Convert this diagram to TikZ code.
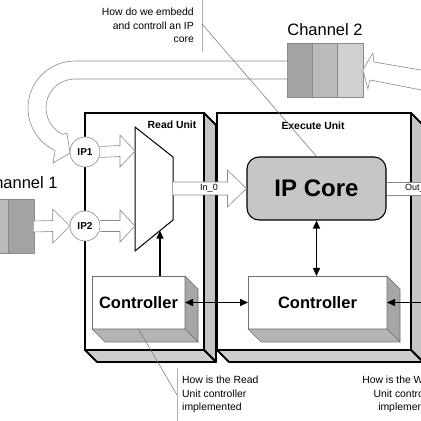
\documentclass[tikz,border=0pt]{standalone}
\usepackage{fontspec}
\setmainfont{Liberation Sans}
\usetikzlibrary{arrows.meta,calc,positioning}
\definecolor{unitgray}{HTML}{C4C4C4}
\definecolor{ctrlright}{HTML}{A6A6A6}
\definecolor{ctrlbottom}{HTML}{B4B4B4}
\definecolor{coregray}{HTML}{C6C6C8}
\definecolor{chdark}{HTML}{A3A3A5}
\definecolor{chmid}{HTML}{BABABC}
\definecolor{chlight}{HTML}{D0D0D2}
\definecolor{arrowgray}{HTML}{8A8A8A}
\definecolor{linegray}{HTML}{707070}
\definecolor{brackgray}{HTML}{B0B0B0}
\newcommand{\extrude}[5]{%
  \filldraw[#5, fill=#3] (#1.north east) -- ($(#1.north east)+(#2,-#2)$) -- ($(#1.south east)+(#2,-#2)$) -- (#1.south east) -- cycle;
  \filldraw[#5, fill=#4] (#1.south west) -- ($(#1.south west)+(#2,-#2)$) -- ($(#1.south east)+(#2,-#2)$) -- (#1.south east) -- cycle;
}
\newcommand{\blkarrow}[5]{%
  \path[fill=white] ($(#1)+(0,#3)$) -- ($(#2)+(-#5,#3)$) -- ($(#2)+(-#5,#4)$) -- (#2) -- ($(#2)+(-#5,-#4)$) -- ($(#2)+(-#5,-#3)$) -- ($(#1)+(0,-#3)$) -- cycle;
  \draw[arrowline] ($(#1)+(0,#3)$) -- ($(#2)+(-#5,#3)$) -- ($(#2)+(-#5,#4)$) -- (#2) -- ($(#2)+(-#5,-#4)$) -- ($(#2)+(-#5,-#3)$) -- ($(#1)+(0,-#3)$);
}
\tikzset{
  unitfront/.style={draw=black, line width=1.8pt, fill=white, inner sep=0pt, outer sep=0pt, anchor=north west},
  unitface/.style={draw=black, line width=1.8pt, line join=round},
  unitlbl/.style={font=\bfseries\fontsize{10.4}{12}\selectfont, inner sep=0pt},
  ctrlfront/.style={draw=linegray, line width=0.6pt, fill=white, inner sep=0pt, outer sep=0pt, minimum height=53pt, font=\bfseries\fontsize{16.5}{18}\selectfont},
  ctrlface/.style={draw=linegray, line width=0.6pt, line join=round},
  ipnode/.style={circle, draw=arrowgray, line width=0.6pt, fill=white, minimum size=30pt, inner sep=0pt, font=\bfseries\fontsize{10}{12}\selectfont},
  corebox/.style={rounded corners=12pt, draw=black, line width=1.1pt, fill=coregray, inner sep=0pt, minimum width=139pt, minimum height=63pt, font=\bfseries\fontsize{24}{27}\selectfont},
  arrowline/.style={draw=arrowgray, line width=0.6pt, line join=miter},
  ctlarrow/.style={line width=1.5pt, black, >={Triangle[length=8pt,width=7pt]}},
  cell/.style={draw=arrowgray, line width=0.5pt, minimum width=25.3pt, minimum height=54pt, inner sep=0pt, outer sep=0pt},
  chlbl/.style={font=\fontsize{16.5}{18}\selectfont, inner sep=0pt},
  annot/.style={font=\fontsize{10.4}{13.5}\selectfont, inner sep=0pt},
  annotline/.style={draw=linegray, line width=0.5pt},
  brackline/.style={draw=brackgray, line width=0.6pt},
  smalllbl/.style={font=\fontsize{9}{10}\selectfont, inner sep=0pt}
}
\begin{document}
\begin{tikzpicture}[x=1pt, y=1pt]
\path[use as bounding box] (0,0) rectangle (421,421);
\clip (0,0) rectangle (421,421);

% units
\node[unitfront, minimum width=119pt, minimum height=237pt] (read) at (85,308) {};
\extrude{read}{12}{unitgray}{unitgray!85!white}{unitface}
\node[unitfront, minimum width=194pt, minimum height=237pt] (exec) at (217,308) {};
\extrude{exec}{12}{unitgray}{unitgray!85!white}{unitface}
\node[unitlbl] (readlbl) at (172,296) {Read Unit};
\node[unitlbl] (execlbl) at (313,295) {Execute Unit};

% controllers
\node[ctrlfront, minimum width=93pt] (rctrl) at (138.5,118.5) {Controller};
\extrude{rctrl}{13}{ctrlright}{ctrlbottom}{ctrlface}
\node[ctrlfront, minimum width=139pt] (ectrl) at (317.5,118.5) {Controller};
\extrude{ectrl}{13}{ctrlright}{ctrlbottom}{ctrlface}

% multiplexer
\filldraw[draw=black, fill=white, line width=1pt] (135,294) -- (173,264) -- (173,201) -- (135,170) -- cycle;
\coordinate (muxin1) at (135,270);
\coordinate (muxin2) at (135,195);
\coordinate (muxout) at (173,232.5);
\coordinate (muxctl) at (160,190.4);

% IP core
\node[corebox] (ipcore) at (316.5,232.5) {IP Core};

% IP inputs
\node[ipnode] (ip1) at (85,269) {IP1};
\node[ipnode] (ip2) at (85,195) {IP2};

% channel 1
\node[cell, fill=chlight] (ch1a) at (-29.5,194.5) {};
\node[cell, fill=chmid, right=0pt of ch1a] (ch1b) {};
\node[cell, fill=chdark, right=0pt of ch1b] (ch1c) {};
\node[chlbl] (ch1lbl) at (20,238) {Channel 1};

% channel 2
\node[cell, fill=chdark] (ch2a) at (299.65,351) {};
\node[cell, fill=chmid, right=0pt of ch2a] (ch2b) {};
\node[cell, fill=chlight, right=0pt of ch2b] (ch2c) {};
\node[chlbl] (ch2lbl) at (325,391) {Channel 2};

% hollow arrows
\blkarrow{ip1.east}{muxin1}{5.5}{16}{15}
\blkarrow{ip2.east}{muxin2}{5.5}{16}{15}
\blkarrow{ch1c.east}{ip2.west}{5.5}{17}{17}
\blkarrow{muxout}{ipcore.west}{6.5}{18.5}{19}
\node[smalllbl] (in0) at (209,232.5) {In\_0};
\fill[white] ([yshift=6.5]ipcore.east) rectangle ([xshift=45,yshift=-6.5]ipcore.east);
\draw[arrowline] ([yshift=6.5]ipcore.east) -- ++(45,0);
\draw[arrowline] ([yshift=-6.5]ipcore.east) -- ++(45,0);
\node[smalllbl, anchor=west] (out0) at (405,232.5) {Out\_0};

% feedback arrow from channel 2 to IP1
\coordinate (fbc) at (75,313);
\coordinate (fbtip) at (70,268);
\filldraw[arrowline, fill=white] ($(ch2a.west)+(0,9)$) -- (75,360) arc[start angle=90, end angle=245, radius=47]
  -- (53,258) -- (fbtip) -- (67,288) -- (62.7,286.7)
  arc[start angle=245, end angle=90, radius=29] -- ($(ch2a.west)+(0,-9)$);
% incoming arrow to channel 2
\filldraw[arrowline, fill=white] ($(ch2c.east)+(62,-0.7)$) -- ($(ch2c.east)+(11,8)$) -- ($(ch2c.east)+(10,17)$)
  -- (ch2c.east) -- ($(ch2c.east)+(5,-19)$) -- ($(ch2c.east)+(7,-10)$) -- ($(ch2c.east)+(62,-20.7)$);

% control connections
\draw[ctlarrow, ->] (rctrl.north -| muxctl) -- (muxctl);
\draw[ctlarrow, <->] (ipcore.south) -- (ipcore.south |- ectrl.north);
\draw[ctlarrow, <->] (rctrl.east) -- (ectrl.west);
\coordinate (rightin) at (425,118.5);
\draw[ctlarrow, ->] (rightin) -- (ectrl.east);

% annotations
\node[annot, align=right, anchor=east] (q1) at (194,395.5) {How do we embedd\\and controll an IP\\core};
\coordinate (q1top) at (202,421);
\coordinate (q1bot) at (202,369);
\coordinate (q1knee) at (202,397);
\draw[brackline] (q1top) -- (q1bot);
\draw[annotline] (q1knee) -- (ipcore.north);

\node[annot, align=left, anchor=west] (q2) at (182,26.5) {How is the Read\\Unit controller\\implemented};
\coordinate (q2top) at (177,53);
\coordinate (q2bot) at (177,0);
\coordinate (q2knee) at (177,26);
\draw[brackline] (q2top) -- (q2bot);
\draw[annotline] (q2knee) -- (rctrl.south);

\node[annot, align=right, anchor=east] (q3) at (438,26.5) {How is the Write\\Unit controller\\implemented};
\end{tikzpicture}
\end{document}
